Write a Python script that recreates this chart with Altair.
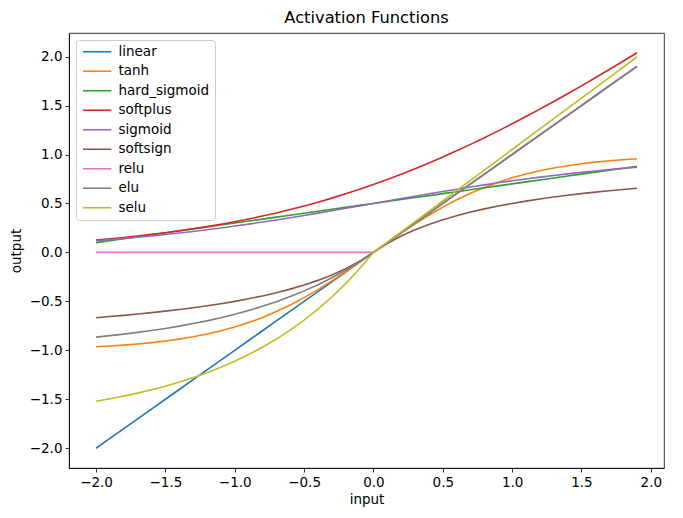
import altair as alt
import pandas as pd

x_vals = [-2.0, -1.9, -1.8, -1.7, -1.6, -1.5, -1.4, -1.3, -1.2, -1.1,
          -1.0, -0.9, -0.8, -0.7, -0.6, -0.5, -0.4, -0.3, -0.2, -0.1,
          0.0, 0.1, 0.2, 0.3, 0.4, 0.5, 0.6, 0.7, 0.8, 0.9,
          1.0, 1.1, 1.2, 1.3, 1.4, 1.5, 1.6, 1.7, 1.8, 1.9]

linear = [-2.0, -1.9, -1.8, -1.7, -1.6, -1.5, -1.4, -1.3, -1.2, -1.1,
          -1.0, -0.9, -0.8, -0.7, -0.6, -0.5, -0.4, -0.3, -0.2, -0.1,
          0.0, 0.1, 0.2, 0.3, 0.4, 0.5, 0.6, 0.7, 0.8, 0.9,
          1.0, 1.1, 1.2, 1.3, 1.4, 1.5, 1.6, 1.7, 1.8, 1.9]
tanh = [-0.9640, -0.9562, -0.9468, -0.9354, -0.9217, -0.9051, -0.8854, -0.8617, -0.8337, -0.8005,
        -0.7616, -0.7163, -0.6640, -0.6044, -0.5370, -0.4621, -0.3799, -0.2913, -0.1974, -0.0997,
        0.0, 0.0997, 0.1974, 0.2913, 0.3799, 0.4621, 0.5370, 0.6044, 0.6640, 0.7163,
        0.7616, 0.8005, 0.8337, 0.8617, 0.8854, 0.9051, 0.9217, 0.9354, 0.9468, 0.9562]
hard_sigmoid = [0.10, 0.12, 0.14, 0.16, 0.18, 0.20, 0.22, 0.24, 0.26, 0.28,
                0.30, 0.32, 0.34, 0.36, 0.38, 0.40, 0.42, 0.44, 0.46, 0.48,
                0.50, 0.52, 0.54, 0.56, 0.58, 0.60, 0.62, 0.64, 0.66, 0.68,
                0.70, 0.72, 0.74, 0.76, 0.78, 0.80, 0.82, 0.84, 0.86, 0.88]
softplus = [0.1269, 0.1394, 0.1530, 0.1678, 0.1839, 0.2014, 0.2204, 0.2410, 0.2633, 0.2873,
            0.3133, 0.3412, 0.3711, 0.4032, 0.4375, 0.4741, 0.5130, 0.5544, 0.5981, 0.6444,
            0.6931, 0.7444, 0.7981, 0.8544, 0.9130, 0.9741, 1.0375, 1.1032, 1.1711, 1.2412,
            1.3133, 1.3873, 1.4633, 1.5410, 1.6204, 1.7014, 1.7839, 1.8678, 1.9530, 2.0394]
sigmoid = [0.1192, 0.1301, 0.1419, 0.1545, 0.1680, 0.1824, 0.1978, 0.2142, 0.2315, 0.2497,
           0.2689, 0.2891, 0.3100, 0.3318, 0.3543, 0.3775, 0.4013, 0.4256, 0.4502, 0.4750,
           0.5000, 0.5250, 0.5498, 0.5744, 0.5987, 0.6225, 0.6457, 0.6682, 0.6900, 0.7109,
           0.7311, 0.7503, 0.7685, 0.7858, 0.8022, 0.8176, 0.8320, 0.8455, 0.8581, 0.8699]
softsign = [-0.6667, -0.6552, -0.6429, -0.6296, -0.6154, -0.6000, -0.5833, -0.5652, -0.5455, -0.5238,
            -0.5000, -0.4737, -0.4444, -0.4118, -0.3750, -0.3333, -0.2857, -0.2308, -0.1667, -0.0909,
            0.0, 0.0909, 0.1667, 0.2308, 0.2857, 0.3333, 0.3750, 0.4118, 0.4444, 0.4737,
            0.5000, 0.5238, 0.5455, 0.5652, 0.5833, 0.6000, 0.6154, 0.6296, 0.6429, 0.6552]
relu = [0.0, 0.0, 0.0, 0.0, 0.0, 0.0, 0.0, 0.0, 0.0, 0.0,
        0.0, 0.0, 0.0, 0.0, 0.0, 0.0, 0.0, 0.0, 0.0, 0.0,
        0.0, 0.1, 0.2, 0.3, 0.4, 0.5, 0.6, 0.7, 0.8, 0.9,
        1.0, 1.1, 1.2, 1.3, 1.4, 1.5, 1.6, 1.7, 1.8, 1.9]
elu = [-0.865, -0.850, -0.835, -0.817, -0.798, -0.777, -0.753, -0.727, -0.699, -0.667,
       -0.632, -0.593, -0.551, -0.503, -0.451, -0.393, -0.330, -0.259, -0.181, -0.095,
       0.0, 0.1, 0.2, 0.3, 0.4, 0.5, 0.6, 0.7, 0.8, 0.9,
       1.0, 1.1, 1.2, 1.3, 1.4, 1.5, 1.6, 1.7, 1.8, 1.9]
selu = [-1.520, -1.495, -1.4675, -1.437, -1.403, -1.366, -1.3245, -1.279, -1.2286, -1.1729,
        -1.1113, -1.0433, -0.9682, -0.8850, -0.7932, -0.6918, -0.5796, -0.4557, -0.3187, -0.1673,
        0.0, 0.105, 0.210, 0.315, 0.420, 0.525, 0.630, 0.735, 0.841, 0.946,
        1.051, 1.156, 1.261, 1.366, 1.471, 1.576, 1.681, 1.786, 1.891, 1.996]

names = ["linear", "tanh", "hard_sigmoid", "softplus", "sigmoid",
         "softsign", "relu", "elu", "selu"]
series = [linear, tanh, hard_sigmoid, softplus, sigmoid, softsign, relu, elu, selu]
colors = ["#1f77b4", "#ff7f0e", "#2ca02c", "#d62728", "#9467bd",
          "#8c564b", "#e377c2", "#7f7f7f", "#bcbd22"]
tick_vals = [-2.0, -1.5, -1.0, -0.5, 0.0, 0.5, 1.0, 1.5, 2.0]

rows = []
for i, (n, s) in enumerate(zip(names, series)):
    for xv, yv in zip(x_vals, s):
        rows.append({"input": xv, "output": yv, "fn": n, "k": i})
df = pd.DataFrame(rows)

FONT = "DejaVu Sans"
FS = 13.5

chart = alt.Chart(df).mark_line(strokeWidth=1.6).encode(
    x=alt.X("input:Q", title="input",
            scale=alt.Scale(domain=[-2.195, 2.095], nice=False, zero=False),
            axis=alt.Axis(values=tick_vals, format=".1f", grid=False,
                          tickSize=4, labelPadding=3, titlePadding=4)),
    y=alt.Y("output:Q", title="output",
            scale=alt.Scale(domain=[-2.202, 2.241], nice=False, zero=False),
            axis=alt.Axis(values=tick_vals, format=".1f", grid=False,
                          tickSize=4, labelPadding=3, titlePadding=6)),
    color=alt.Color("fn:N", scale=alt.Scale(domain=names, range=colors),
                    legend=alt.Legend(title=None, orient="top-left", offset=7,
                                      symbolType="M-1,0H5", symbolSize=89,
                                      symbolStrokeWidth=1.6, labelOffset=24,
                                      labelFontSize=FS, labelFont=FONT,
                                      labelColor="black", rowPadding=4.5,
                                      padding=5, strokeColor="#cccccc",
                                      fillColor="rgba(255,255,255,0.8)",
                                      cornerRadius=3)),
    detail="k:O",
    order="input:Q",
).properties(
    width=595, height=435,
    title=alt.TitleParams("Activation Functions", fontSize=16.3, font=FONT,
                          fontWeight="normal", color="black", offset=7),
    autosize=alt.AutoSizeParams(type="none"),
    padding={"left": 61, "top": 25, "right": 11, "bottom": 42},
).configure_axis(
    labelFont=FONT, titleFont=FONT, labelFontSize=FS, titleFontSize=FS,
    labelColor="black", titleColor="black", titleFontWeight="normal",
    domainColor="black", tickColor="black", domainWidth=0.8, tickWidth=0.8,
).configure_view(
    stroke="black", strokeWidth=0.8,
)

chart.save("out.html", embed_options={"renderer": "svg", "actions": False})
